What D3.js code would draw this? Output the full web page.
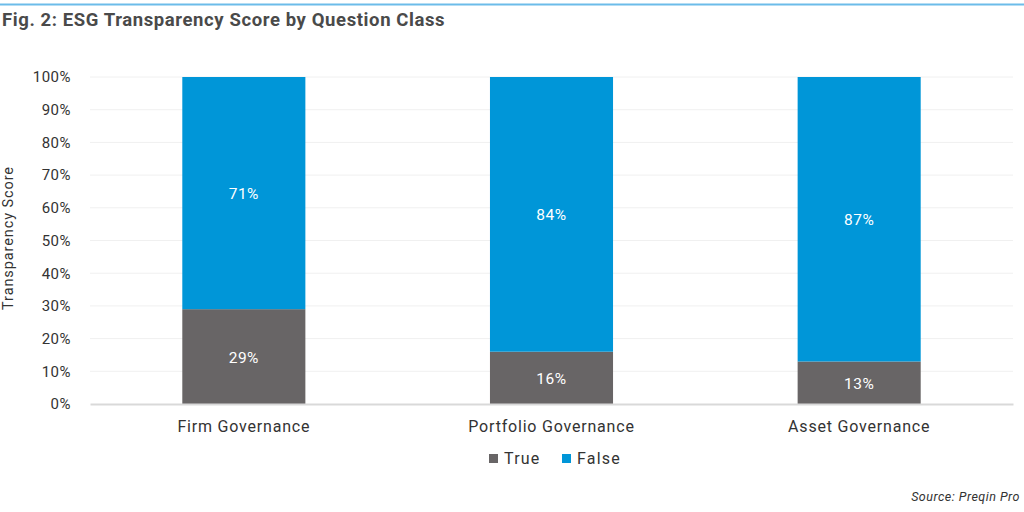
<!DOCTYPE html>
<html>
<head>
<meta charset="utf-8">
<script src="https://cdn.jsdelivr.net/npm/d3@7"></script>
<style>
  html, body { margin: 0; padding: 0; background: #fff; }
  svg { display: block; font-family: Roboto, "Noto Sans", sans-serif; }
</style>
</head>
<body>
<svg id="chart" width="1024" height="512"></svg>
<script>
const categories = ["Firm Governance", "Portfolio Governance", "Asset Governance"];
const seriesNames = ["True", "False"];
const trueValues = [29, 16, 13];
const falseValues = [71, 84, 87];
const yTicks = [0, 10, 20, 30, 40, 50, 60, 70, 80, 90, 100];
const colors = { True: "#686566", False: "#0096d8" };

const svg = d3.select("#chart");
const width = 1024;

const x = d3.scaleBand().domain(categories).range([90, 1013]).paddingInner(0.6).paddingOuter(0.3);
const y = d3.scaleLinear().domain([0, 100]).range([404, 77]);

// top rule
svg.append("line")
    .attr("x1", 0).attr("x2", width)
    .attr("y1", 4.5).attr("y2", 4.5)
    .attr("stroke", "#6cbce9")
    .attr("stroke-width", 2);

svg.append("text")
    .attr("x", 2).attr("y", 26)
    .attr("font-size", 18.5)
    .attr("font-weight", "bold")
    .attr("letter-spacing", 0.6)
    .attr("fill", "#4a4a4a")
    .text("Fig. 2: ESG Transparency Score by Question Class");

// gridlines
svg.append("g")
    .selectAll("line")
    .data(yTicks.filter(d => d > 0))
    .join("line")
    .attr("x1", 90).attr("x2", 1013)
    .attr("y1", d => y(d)).attr("y2", d => y(d))
    .attr("stroke", "#f0f0f0")
    .attr("stroke-width", 1);

// y axis
const yAxis = svg.append("g")
    .attr("transform", "translate(90,0)")
    .call(d3.axisLeft(y).tickValues(yTicks).tickFormat(d => d + "%").tickSize(0).tickPadding(19));
yAxis.select(".domain").remove();
yAxis.selectAll("text")
    .attr("font-size", 15)
    .attr("letter-spacing", 0.5)
    .attr("fill", "#333")
    .attr("font-family", "Roboto, sans-serif");

svg.append("text")
    .attr("transform", "translate(13,238) rotate(-90)")
    .attr("text-anchor", "middle")
    .attr("font-size", 14.5)
    .attr("letter-spacing", 0.9)
    .attr("fill", "#333")
    .text("Transparency Score");

// stacked bars
const rows = categories.map((c, i) => ({ category: c, True: trueValues[i], False: falseValues[i] }));
const stacked = d3.stack().keys(seriesNames)(rows);

const layers = svg.append("g")
    .selectAll("g")
    .data(stacked)
    .join("g")
    .attr("fill", d => colors[d.key]);

layers.selectAll("rect")
    .data(d => d)
    .join("rect")
    .attr("x", d => x(d.data.category))
    .attr("width", x.bandwidth())
    .attr("y", d => y(d[1]))
    .attr("height", d => y(d[0]) - y(d[1]));

layers.selectAll("text")
    .data(d => d)
    .join("text")
    .attr("x", d => x(d.data.category) + x.bandwidth() / 2)
    .attr("y", d => (y(d[0]) + y(d[1])) / 2 + 6)
    .attr("text-anchor", "middle")
    .attr("font-size", 15.5)
    .attr("letter-spacing", 0.5)
    .attr("fill", "#fff")
    .text(d => (d[1] - d[0]) + "%");

// x axis
const xAxis = svg.append("g")
    .attr("transform", "translate(0,404)")
    .call(d3.axisBottom(x).tickSize(0).tickPadding(17));
xAxis.select(".domain")
    .attr("stroke", "#d9d9d9")
    .attr("stroke-width", 2);
xAxis.selectAll("text")
    .attr("font-size", 16)
    .attr("letter-spacing", 0.8)
    .attr("fill", "#333")
    .attr("font-family", "Roboto, sans-serif");

// legend
const legendItems = [{ key: "True", x: 489 }, { key: "False", x: 562 }];
const legend = svg.append("g")
    .selectAll("g")
    .data(legendItems)
    .join("g")
    .attr("transform", d => `translate(${d.x},453)`);
legend.append("rect")
    .attr("width", 9).attr("height", 9)
    .attr("y", 1)
    .attr("fill", d => colors[d.key]);
legend.append("text")
    .attr("x", 15).attr("y", 11)
    .attr("font-size", 16)
    .attr("letter-spacing", 1.2)
    .attr("fill", "#333")
    .text(d => d.key);

svg.append("text")
    .attr("x", 1020).attr("y", 501)
    .attr("text-anchor", "end")
    .attr("font-size", 12.5)
    .attr("font-style", "italic")
    .attr("letter-spacing", 0.5)
    .attr("fill", "#333")
    .text("Source: Preqin Pro");
</script>
</body>
</html>
